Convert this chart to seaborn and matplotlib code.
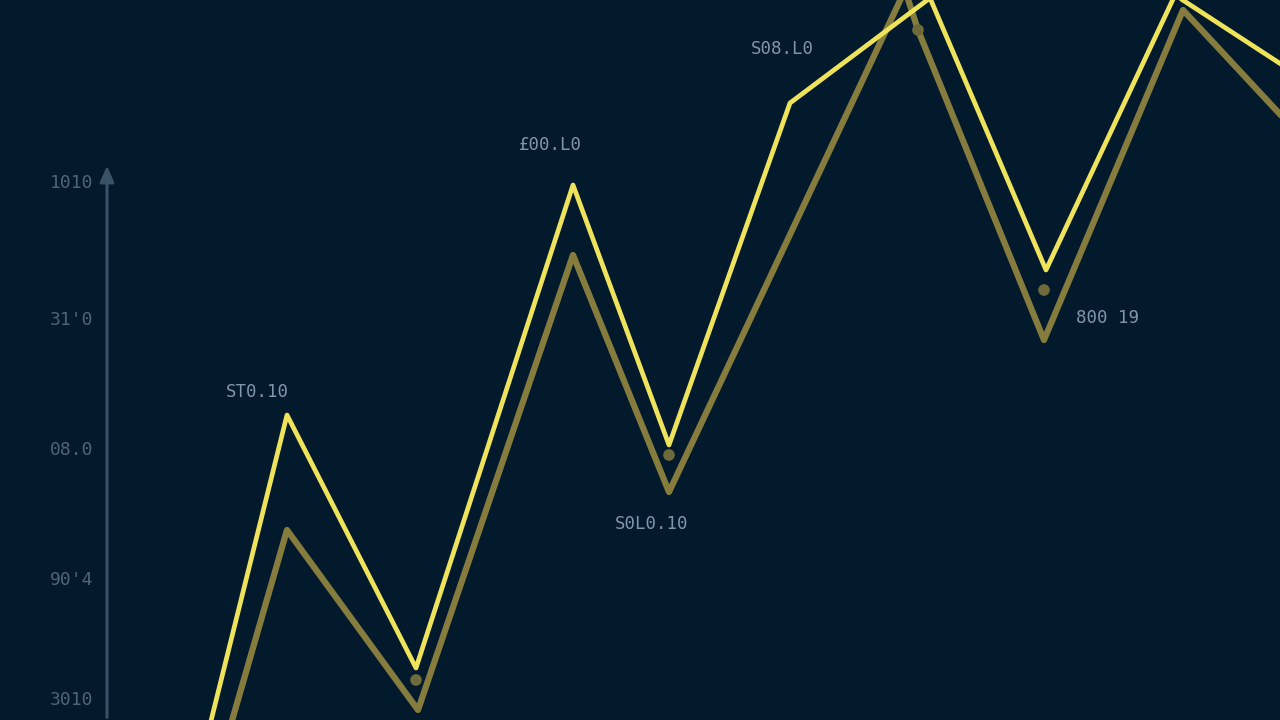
import numpy as np
import pandas as pd
import matplotlib
matplotlib.use("Agg")
import matplotlib.pyplot as plt
import seaborn as sns

# Valeurs (abscisse = pas, ordonnée = niveau)
bright_x = [205, 287, 416, 573, 669, 790, 930, 1046, 1175, 1290]
bright_y = [-25, 305, 52, 535, 275, 617, 722, 450, 725, 650]

olive_x = [225, 287, 418, 573, 669, 905, 918, 1044, 1183, 1290]
olive_y = [-25, 190, 10, 465, 228, 730, 690, 380, 710, 595]

dot_x = [416, 669, 918, 1044]
dot_y = [40, 265, 690, 430]

tick_pos = [537, 400, 270, 140, 20]
tick_labels = ["1010", "31'0", "08.0", "90'4", "3010"]

notes = ["ST0.10", "£00.L0", "S08.L0", "S0L0.10", "800 19"]
note_x = [257, 550, 782, 652, 1107]
note_y = [328, 575, 671, 196, 402]

bg = "#031a2d"
bright = "#eee35a"
olive = "#857c3e"
txt = "#8096ab"

sns.set_theme(style="dark")
plt.rcParams["font.family"] = ["DejaVu Sans"]

fig = plt.figure(figsize=(12.8, 7.2), dpi=100)
fig.patch.set_facecolor(bg)
ax = fig.add_axes([0, 0, 1, 1])
ax.set_facecolor(bg)

df_b = pd.DataFrame({"x": bright_x, "y": bright_y})
df_o = pd.DataFrame({"x": olive_x, "y": olive_y})

sns.lineplot(data=df_o, x="x", y="y", sort=False, color=olive, lw=4.5, ax=ax)
sns.scatterplot(x=dot_x, y=dot_y, color="#6f6a3a", s=70, edgecolor="none", ax=ax, zorder=3)
sns.lineplot(data=df_b, x="x", y="y", sort=False, color=bright, lw=3.4, ax=ax, zorder=4)

ax.set_xlim(0, 1280)
ax.set_ylim(0, 720)
ax.set_xticks([])
ax.set_yticks([])
ax.set_xlabel("")
ax.set_ylabel("")
for s in ax.spines.values():
    s.set_visible(False)

# axe vertical avec flèche
ax.annotate("", xy=(107, 557), xytext=(107, 0),
            arrowprops=dict(arrowstyle="-|>,head_width=0.35,head_length=0.8",
                            color="#3a5266", lw=2.2))

for p, lab in zip(tick_pos, tick_labels):
    ax.text(93, p, lab, color="#4f6477", fontsize=13, ha="right", va="center",
            family="DejaVu Sans Mono")

for t, x, y in zip(notes, note_x, note_y):
    ax.text(x, y, t, color=txt, fontsize=12.5, ha="center", va="center",
            family="DejaVu Sans Mono")

fig.savefig("out.png", dpi=100, facecolor=bg)
